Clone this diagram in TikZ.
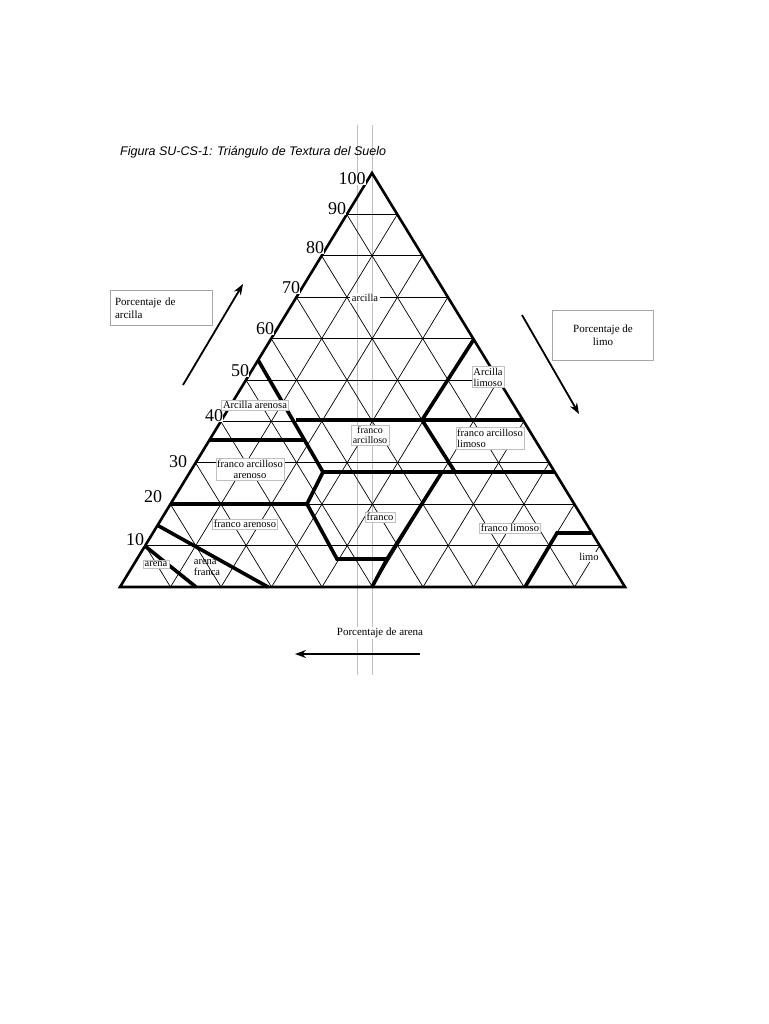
\documentclass[tikz,border=0pt]{standalone}
\usepackage{fontspec}
\usetikzlibrary{arrows.meta}
\setmainfont{Liberation Serif}
\newfontfamily\figfont{Liberation Sans}
\begin{document}
\begin{tikzpicture}[x=1pt,y=-1pt,
  grid/.style={line width=0.7pt},
  bound/.style={line width=3.6pt,line join=miter},
  lbl/.style={font=\fontsize{10.5}{11}\selectfont,align=center,inner sep=1.5pt,fill=white,draw=black!25,line width=0.4pt},
  num/.style={font=\fontsize{18}{18}\selectfont,inner sep=0pt,fill=white},
  axbox/.style={draw=black!35,line width=0.5pt,fill=white,font=\fontsize{11}{12.5}\selectfont,align=left},
  arr/.style={-{Stealth[length=11pt,width=8pt]},line width=1.8pt}]
\useasboundingbox (0,0) rectangle (768,1024);
\fill[white] (0,0) rectangle (768,1024);
\newcommand\tp[2]{({120+(#1)*252+(#2)*505},{587-(#1)*414})}
% grey verticals
\draw[black!25,line width=0.8pt] (357,125) -- (357,675) (372,125) -- (372,675);
% grid
\foreach \i in {1,...,9}{
  \draw[grid] \tp{\i/10}{0} -- \tp{\i/10}{1-\i/10};
  \draw[grid] \tp{0}{\i/10} -- \tp{1-\i/10}{\i/10};
  \draw[grid] \tp{0}{1-\i/10} -- \tp{1-\i/10}{0};
}
% outline
\draw[line width=2.6pt,line join=miter] \tp{0}{0} -- \tp{0}{1} -- \tp{1}{0} -- cycle;
% boundaries
\draw[bound] (258,360) -- (323,472) -- (554,472);
\draw[bound] (296,420) -- (523,420);
\draw[bound] (210,440) -- (305,440);
\draw[bound] (474,339) -- (422,420) -- (455,472);
\draw[bound] (323,472) -- (307,504) -- (337,559) -- (387,559) -- (372,587);
\draw[bound] (387,559) -- (442,472);
\draw[bound] (170,504) -- (307,504);
\draw[bound] (157,525) -- (268,587);
\draw[bound] (145,546) -- (196,587);
\draw[bound] (525,587) -- (557,533) -- (591,533);
% numbers
\foreach \v/\x/\y in {100/352/179,90/337/209,80/315/248,70/291/288,60/265/329,50/240/371,40/214/416,30/178/462,20/153/497,10/135/540}
  \node[num] (n\v) at (\x,\y) {\v};
% title
\node[font=\figfont\itshape\fontsize{12.5}{12.5}\selectfont,anchor=west,inner sep=0pt] (title) at (120,152) {Figura SU-CS-1: Triángulo de Textura del Suelo};
% axis boxes and arrows
\node[axbox,minimum width=102pt,minimum height=35pt,text width=92pt] (pa) at (161,308) {Porcentaje de\\arcilla};
\node[axbox,minimum width=101pt,minimum height=50pt,align=center] (pl) at (603,335) {Porcentaje de\\limo};
\coordinate (a1) at (183,385); \coordinate (a2) at (243,284);
\draw[arr] (a1) -- (a2);
\coordinate (b1) at (522,315); \coordinate (b2) at (579,414);
\draw[arr] (b1) -- (b2);
\node[font=\fontsize{11}{12}\selectfont,fill=white,inner sep=1pt] (pr) at (380,633) {Porcentaje de arena};
\coordinate (c1) at (420,654); \coordinate (c2) at (295,654);
\draw[arr] (c1) -- (c2);
% region labels
\node[lbl,draw=none] (arcilla) at (365,298) {arcilla};
\node[lbl] (aar) at (255,405) {Arcilla arenosa};
\node[lbl,font=\fontsize{10}{10}\selectfont] (fa) at (370,435) {franco\\arcilloso};
\node[lbl] (al) at (488,377) {Arcilla\\limoso};
\node[lbl,align=left] (fal) at (490,438) {franco arcilloso\\limoso};
\node[lbl] (faa) at (250,469) {franco arcilloso\\arenoso};
\node[lbl] (far) at (245,524) {franco arenoso};
\node[lbl] (fr) at (380,517) {franco};
\node[lbl] (fl) at (510,528) {franco limoso};
\node[lbl,draw=none] (limo) at (589,557) {limo};
\node[lbl] (arena) at (156,564) {arena};
\node[lbl,draw=none,fill=none,align=left] (af) at (207,568) {arena\\franca};
\end{tikzpicture}
\end{document}
